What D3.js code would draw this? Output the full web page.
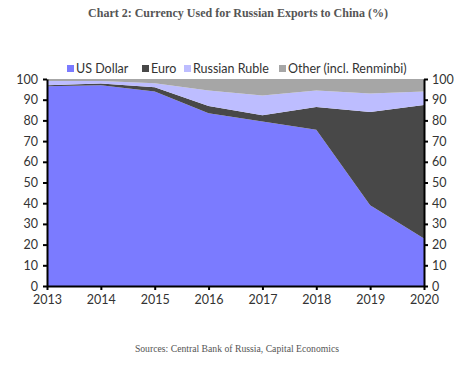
<!DOCTYPE html>
<html><head><meta charset="utf-8">
<script src="https://cdn.jsdelivr.net/npm/d3@7"></script>
<style>body{margin:0;background:#fff}svg{display:block}</style>
</head><body>
<svg id="c" width="474" height="366"></svg>
<script>
const years = [2013, 2014, 2015, 2016, 2017, 2018, 2019, 2020];
const usd = [96.5, 97, 94, 83.5, 79.5, 75.5, 39, 23];
const euro = [0.5, 0.8, 2, 3.5, 3, 11, 45, 64.5];
const ruble = [2, 1.2, 2, 7.5, 9.5, 8, 9, 6.5];
const other = [1, 1, 2, 5.5, 8, 5.5, 7, 6];
const seriesNames = ["US Dollar", "Euro", "Russian Ruble", "Other (incl. Renminbi)"];
const colors = ["#7b7bff", "#484848", "#bdbdff", "#a6a6a6"];
const yTicks = [0,10,20,30,40,50,60,70,80,90,100];

const svg = d3.select("#c");
const L = 47, R = 424, T = 79, B = 286;
const x = d3.scaleLinear().domain([2013, 2020]).range([L, R]);
const y = d3.scaleLinear().domain([0, 100]).range([B, T]);

const rows = years.map((yr, i) => ({year: yr, k0: usd[i], k1: euro[i], k2: ruble[i], k3: other[i]}));
const stack = d3.stack().keys(["k0","k1","k2","k3"])(rows);
const area = d3.area().x(d => x(d.data.year)).y0(d => y(d[0])).y1(d => y(d[1]));
svg.append("g").selectAll("path").data(stack).join("path")
  .attr("d", area).attr("fill", (d, i) => colors[i]);

const tickFont = "Lato, 'Open Sans', sans-serif";
const la = svg.append("g").attr("transform", `translate(${L},0)`)
  .call(d3.axisLeft(y).tickValues(yTicks).tickSize(4).tickSizeOuter(0));
const ra = svg.append("g").attr("transform", `translate(${R},0)`)
  .call(d3.axisRight(y).tickValues(yTicks).tickSize(4).tickSizeOuter(0));
const ba = svg.append("g").attr("transform", `translate(0,${B})`)
  .call(d3.axisBottom(x).tickValues(years).tickFormat(d3.format("d")).tickSize(4).tickSizeOuter(0));
[la, ra, ba].forEach(g => {
  g.select(".domain").attr("stroke", "#000").attr("stroke-width", 2);
  g.selectAll(".tick line").attr("stroke", "#000").attr("stroke-width", 2);
  g.selectAll("text").attr("font-family", tickFont).attr("font-size", 12.5).attr("fill", "#333");
});
la.selectAll("text").attr("x", -9);
ra.selectAll("text").attr("x", 8);
ba.selectAll("text").attr("y", 9);

svg.append("text").attr("x", 238).attr("y", 17).attr("text-anchor", "middle")
  .attr("font-family", "'Liberation Serif', serif").attr("font-weight", "bold")
  .attr("font-size", 12).attr("fill", "#555")
  .text("Chart 2: Currency Used for Russian Exports to China (%)");

const legX = [67, 142, 184, 279];
const leg = svg.append("g");
seriesNames.forEach((n, i) => {
  leg.append("rect").attr("x", legX[i]).attr("y", 65).attr("width", 7).attr("height", 7).attr("fill", colors[i]);
  leg.append("text").attr("x", legX[i] + 9).attr("y", 72.5)
    .attr("font-family", tickFont).attr("font-size", 12.5).attr("fill", "#333").text(n);
});

svg.append("text").attr("x", 237).attr("y", 352).attr("text-anchor", "middle")
  .attr("font-family", "'Liberation Serif', serif").attr("font-size", 9.7).attr("fill", "#555")
  .text("Sources: Central Bank of Russia, Capital Economics");
</script>
</body></html>
